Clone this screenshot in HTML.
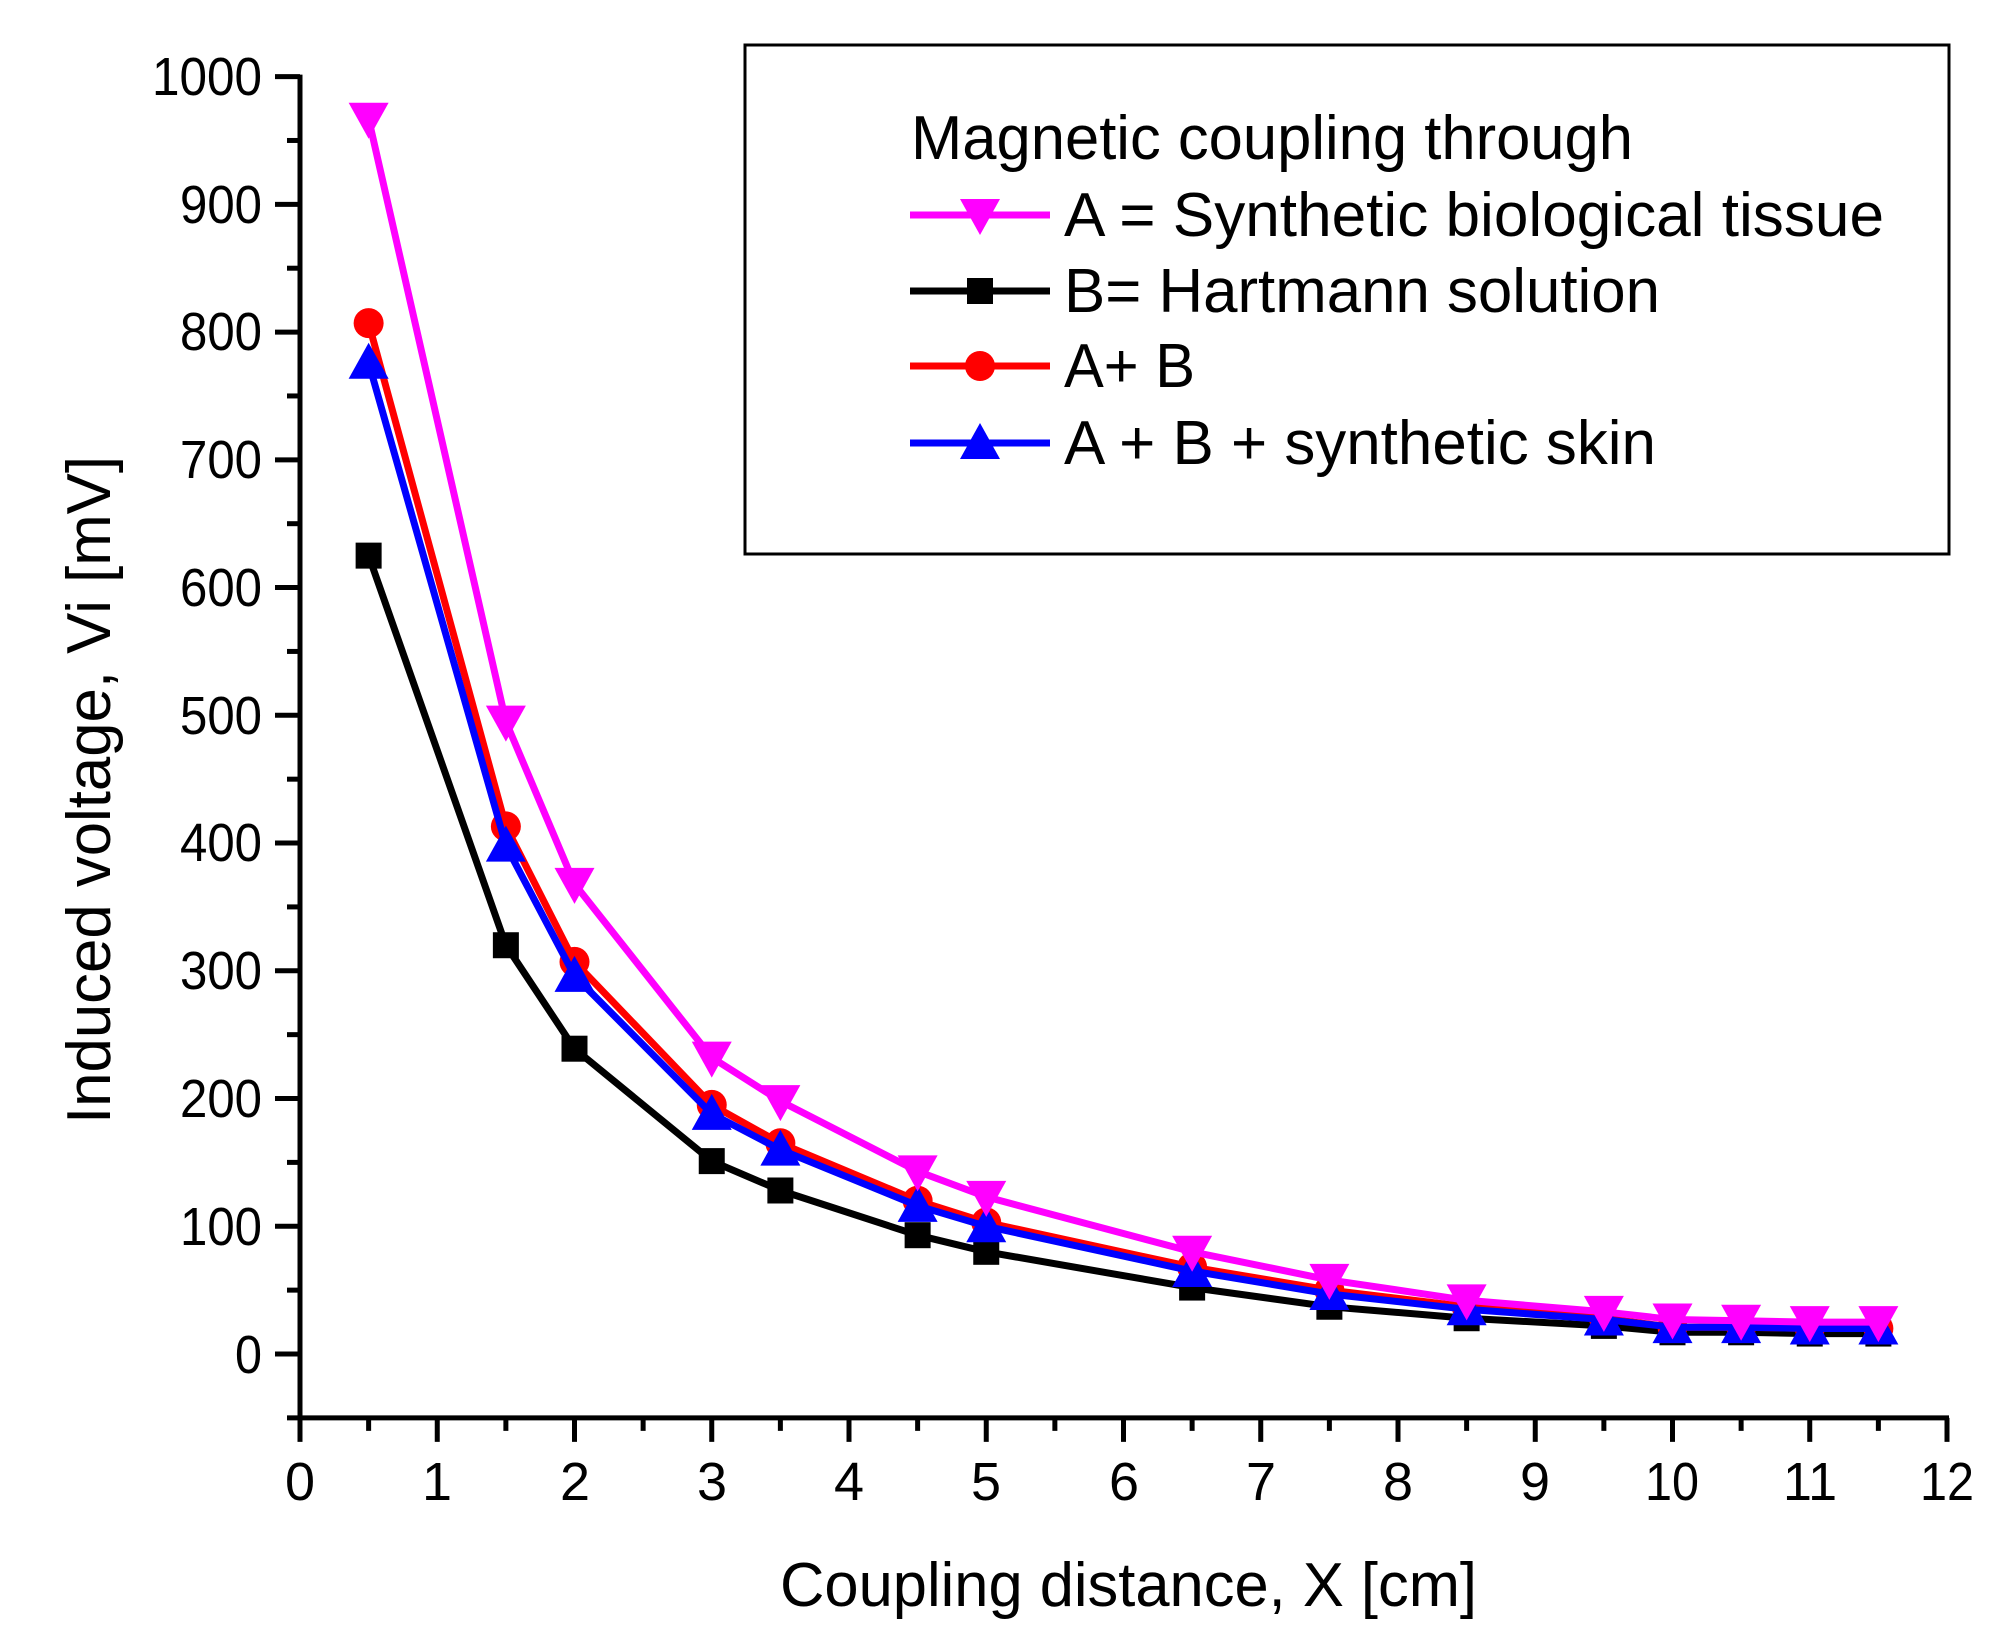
<!DOCTYPE html>
<html><head><meta charset="utf-8"><style>body{margin:0;background:#fff}svg{display:block}</style></head>
<body>
<svg width="2004" height="1643" viewBox="0 0 2004 1643" xmlns="http://www.w3.org/2000/svg" font-family="Liberation Sans, Arial, sans-serif">
<rect width="2004" height="1643" fill="#fff"/>
<g id="axes" stroke="#000" stroke-width="5" fill="none"></g>
<g font-size="54" text-anchor="end" fill="#000">
<text x="262" y="95" textLength="110" lengthAdjust="spacingAndGlyphs">1000</text><text x="262" y="223" textLength="82" lengthAdjust="spacingAndGlyphs">900</text><text x="262" y="350" textLength="82" lengthAdjust="spacingAndGlyphs">800</text><text x="262" y="478" textLength="82" lengthAdjust="spacingAndGlyphs">700</text><text x="262" y="606" textLength="82" lengthAdjust="spacingAndGlyphs">600</text><text x="262" y="734" textLength="82" lengthAdjust="spacingAndGlyphs">500</text><text x="262" y="861" textLength="82" lengthAdjust="spacingAndGlyphs">400</text><text x="262" y="989" textLength="82" lengthAdjust="spacingAndGlyphs">300</text><text x="262" y="1117" textLength="82" lengthAdjust="spacingAndGlyphs">200</text><text x="262" y="1245" textLength="82" lengthAdjust="spacingAndGlyphs">100</text><text x="262" y="1373" textLength="27" lengthAdjust="spacingAndGlyphs">0</text>
</g>
<g font-size="54" text-anchor="middle" fill="#000">
<text x="300" y="1500">0</text><text x="437" y="1500">1</text><text x="575" y="1500">2</text><text x="712" y="1500">3</text><text x="849" y="1500">4</text><text x="986" y="1500">5</text><text x="1124" y="1500">6</text><text x="1261" y="1500">7</text><text x="1398" y="1500">8</text><text x="1535" y="1500">9</text><text x="1672" y="1500" textLength="54" lengthAdjust="spacingAndGlyphs">10</text><text x="1810" y="1500" textLength="54" lengthAdjust="spacingAndGlyphs">11</text><text x="1947" y="1500" textLength="54" lengthAdjust="spacingAndGlyphs">12</text>
</g>
<text x="780" y="1606" font-size="62" textLength="697" lengthAdjust="spacingAndGlyphs">Coupling distance, X [cm]</text>
<text transform="translate(110,1124) rotate(-90)" font-size="62" textLength="668" lengthAdjust="spacingAndGlyphs">Induced voltage, Vi [mV]</text>
<g id="data"></g>
<rect x="745" y="45" width="1204" height="509" fill="none" stroke="#000" stroke-width="3"/>
<g font-size="62" fill="#000">
<text x="911" y="159" textLength="722" lengthAdjust="spacingAndGlyphs">Magnetic coupling through</text>
<text x="1064" y="236" textLength="820" lengthAdjust="spacingAndGlyphs">A = Synthetic biological tissue</text>
<text x="1064" y="312" textLength="596" lengthAdjust="spacingAndGlyphs">B= Hartmann solution</text>
<text x="1064" y="387" textLength="131" lengthAdjust="spacingAndGlyphs">A+ B</text>
<text x="1064" y="464" textLength="592" lengthAdjust="spacingAndGlyphs">A + B + synthetic skin</text>
</g>
<g id="leg"></g>
<script>
var NS="http://www.w3.org/2000/svg";
function X(v){return 300+v*137.25;}
function Y(v){return 1354-v*1.2774;}
function el(p,t,a){var e=document.createElementNS(NS,t);for(var k in a)e.setAttribute(k,a[k]);p.appendChild(e);return e;}
var ax=document.getElementById('axes');
el(ax,'line',{x1:300,y1:Y(1000)-2,x2:300,y2:Y(-50)+2});
el(ax,'line',{x1:298,y1:Y(-50),x2:X(12)+2,y2:Y(-50)});
for(var v=-50;v<=1000;v+=50){var maj=(v%100===0);el(ax,'line',{x1:300,y1:Y(v),x2:maj?275:287,y2:Y(v)});}
for(var i=0;i<=24;i++){var maj=(i%2===0);el(ax,'line',{x1:X(i/2),y1:Y(-50),x2:X(i/2),y2:Y(-50)+(maj?24:13)});}
var xs=[0.5,1.5,2,3,3.5,4.5,5,6.5,7.5,8.5,9.5,10,10.5,11,11.5];
var S=[
{c:'#000000',m:'sq',d:[625,320,239,151,128,93,80,52,37,28,22,17,17,16,16]},
{c:'#ff0000',m:'ci',d:[807,413,307,195,165,120,103,68,50,37,28,21,21,20,20]},
{c:'#0000ff',m:'up',d:[776,398,296,188,160,116,100,65,47,35,27,21,21,20,20]},
{c:'#ff00ff',m:'dn',d:[967,495,368,232,198,143,123,80,58,42,33,27,26,25,25]}];
function mark(g,m,c,x,y){
 if(m==='sq')el(g,'rect',{x:x-13,y:y-13,width:26,height:26,fill:c});
 else if(m==='ci')el(g,'circle',{cx:x,cy:y,r:15,fill:c});
 else if(m==='up')el(g,'polygon',{points:(x-20)+','+(y+16)+' '+(x+20)+','+(y+16)+' '+x+','+(y-20),fill:c});
 else el(g,'polygon',{points:(x-20)+','+(y-16)+' '+(x+20)+','+(y-16)+' '+x+','+(y+20),fill:c});
}
var dg=document.getElementById('data');
S.forEach(function(s){var p=s.d.map(function(v,i){return X(xs[i]).toFixed(1)+','+Y(v).toFixed(1)}).join(' ');
 el(dg,'polyline',{points:p,fill:'none',stroke:s.c,'stroke-width':7,'stroke-linejoin':'round'});
 s.d.forEach(function(v,i){mark(dg,s.m,s.c,X(xs[i]),Y(v));});});
var lg=document.getElementById('leg');
var L=[[S[3],215],[S[0],291],[S[1],366],[S[2],443]];
L.forEach(function(a){el(lg,'line',{x1:910,y1:a[1],x2:1050,y2:a[1],stroke:a[0].c,'stroke-width':7});mark(lg,a[0].m,a[0].c,980,a[1]);});
</script>
</svg>
</body></html>
